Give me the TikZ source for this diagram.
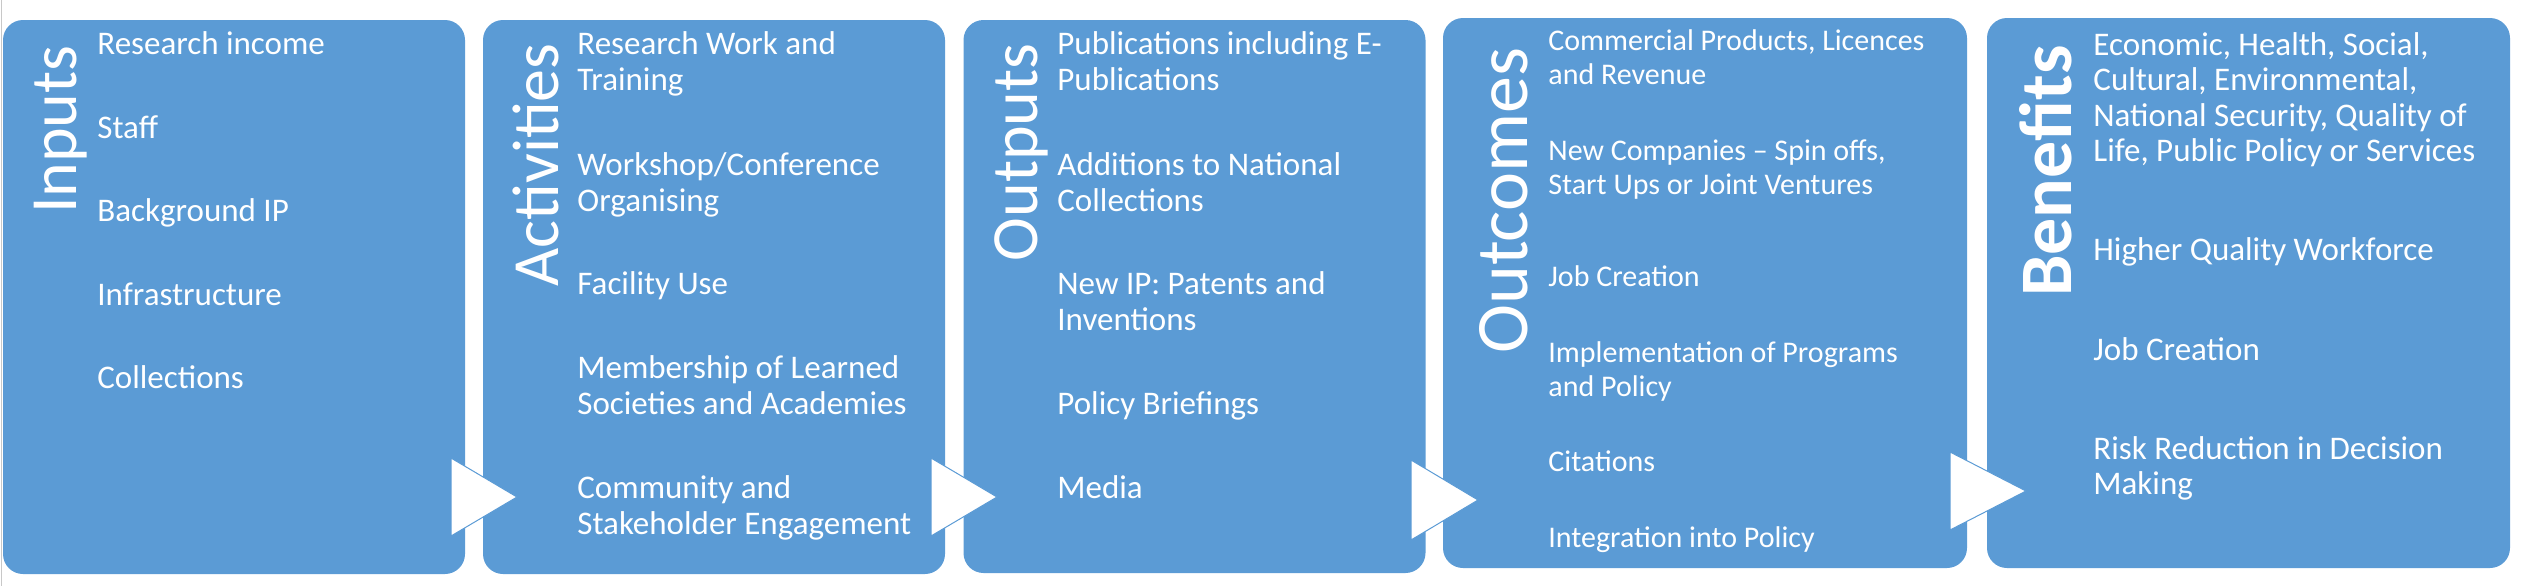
\documentclass[tikz,border=0pt]{standalone}
\usepackage{fontspec}
\setmainfont{Carlito}
\definecolor{boxblue}{HTML}{5B9BD5}
\definecolor{edgegray}{HTML}{C8C8C8}
\begin{document}
\begin{tikzpicture}[x=0.5pt,y=-0.5pt,
  stage/.style={fill=boxblue, draw=none, rounded corners=10pt, inner sep=0pt},
  ttl/.style={text=white, rotate=90, anchor=base east, inner sep=0pt, font=\fontsize{33}{36}\selectfont},
  bigttl/.style={ttl, font=\fontsize{37}{40}\selectfont},
  item/.style={text=white, anchor=base west, inner sep=0pt, align=left, font=\fontsize{16.5}{18}\selectfont},
  smallitem/.style={item, font=\fontsize{15}{17}\selectfont},
  benitem/.style={item, font=\fontsize{16.5}{17.75}\selectfont},
  arrowtri/.style={fill=white, draw=boxblue, line width=0.5pt, line join=miter}]
\useasboundingbox (0,0) rectangle (2524,586);
\draw[edgegray, line width=0.5pt] (1.5,0) -- (1.5,586);

% stages
\node[stage, minimum width=231pt, minimum height=277pt] (b1) at (234,297) {};
\node[stage, minimum width=231pt, minimum height=277pt] (b2) at (714,297) {};
\node[stage, minimum width=231pt, minimum height=276.5pt] (b3) at (1194.5,296.5) {};
\node[stage, minimum width=262pt, minimum height=275pt] (b4) at (1705,293) {};
\node[stage, minimum width=261.5pt, minimum height=275pt] (b5) at (2248.5,293) {};

% arrows between stages
\coordinate (a1b) at (451,458); \coordinate (a1c) at (451,536); \coordinate (a1t) at (517,497);
\coordinate (a2b) at (931,458); \coordinate (a2c) at (931,536); \coordinate (a2t) at (997,497);
\coordinate (a3b) at (1411,460); \coordinate (a3c) at (1411,540); \coordinate (a3t) at (1478,500);
\coordinate (a4b) at (1950,452); \coordinate (a4c) at (1950,530); \coordinate (a4t) at (2026,491);
\filldraw[arrowtri] (a1b) -- (a1c) -- (a1t) -- cycle;
\filldraw[arrowtri] (a2b) -- (a2c) -- (a2t) -- cycle;
\filldraw[arrowtri] (a3b) -- (a3c) -- (a3t) -- cycle;
\filldraw[arrowtri] (a4b) -- (a4c) -- (a4t) -- cycle;

% titles
\node[ttl] (t1) at (76,45) {Inputs};
\node[ttl] (t2) at (558,43) {Activities};
\node[ttl] (t3) at (1037,43) {Outputs};
\node[bigttl] (t4) at (1527,47) {Outcomes};
\node[bigttl, font=\fontsize{37}{40}\selectfont\bfseries] (t5) at (2071,45) {Benefits};

% Inputs (anchors at the baseline of the last line)
\node[item] (i1) at (97,54) {Research income};
\node[item] (i2) at (97,138) {Staff};
\node[item] (i3) at (97,221) {Background IP};
\node[item] (i4) at (97,305) {Infrastructure};
\node[item] (i5) at (97,388) {Collections};

% Activities
\node[item] (c1) at (577,90) {Research Work and\\Training};
\node[item] (c2) at (577,211) {Workshop/Conference\\Organising};
\node[item] (c3) at (577,294) {Facility Use};
\node[item] (c4) at (577,414) {Membership of Learned\\Societies and Academies};
\node[item] (c5) at (577,534) {Community and\\Stakeholder Engagement};

% Outputs
\node[item] (o1) at (1057,90) {Publications including E-\\Publications};
\node[item] (o2) at (1057,211) {Additions to National\\Collections};
\node[item] (o3) at (1057,330) {New IP: Patents and\\Inventions};
\node[item] (o4) at (1057,414) {Policy Briefings};
\node[item] (o5) at (1057,498) {Media};

% Outcomes
\node[smallitem] (u1) at (1548,84) {Commercial Products, Licences\\and Revenue};
\node[smallitem] (u2) at (1548,194) {New Companies – Spin offs,\\Start Ups or Joint Ventures};
\node[smallitem] (u3) at (1548,286) {Job Creation};
\node[smallitem] (u4) at (1548,396) {Implementation of Programs\\and Policy};
\node[smallitem] (u5) at (1548,471) {Citations};
\node[smallitem] (u6) at (1548,547) {Integration into Policy};

% Benefits
\node[benitem] (e1) at (2093,161.5) {Economic, Health, Social,\\Cultural, Environmental,\\National Security, Quality of\\Life, Public Policy or Services};
\node[benitem] (e2) at (2093,260) {Higher Quality Workforce};
\node[benitem] (e3) at (2093,360) {Job Creation};
\node[benitem] (e4) at (2093,494.5) {Risk Reduction in Decision\\Making};
\end{tikzpicture}
\end{document}
